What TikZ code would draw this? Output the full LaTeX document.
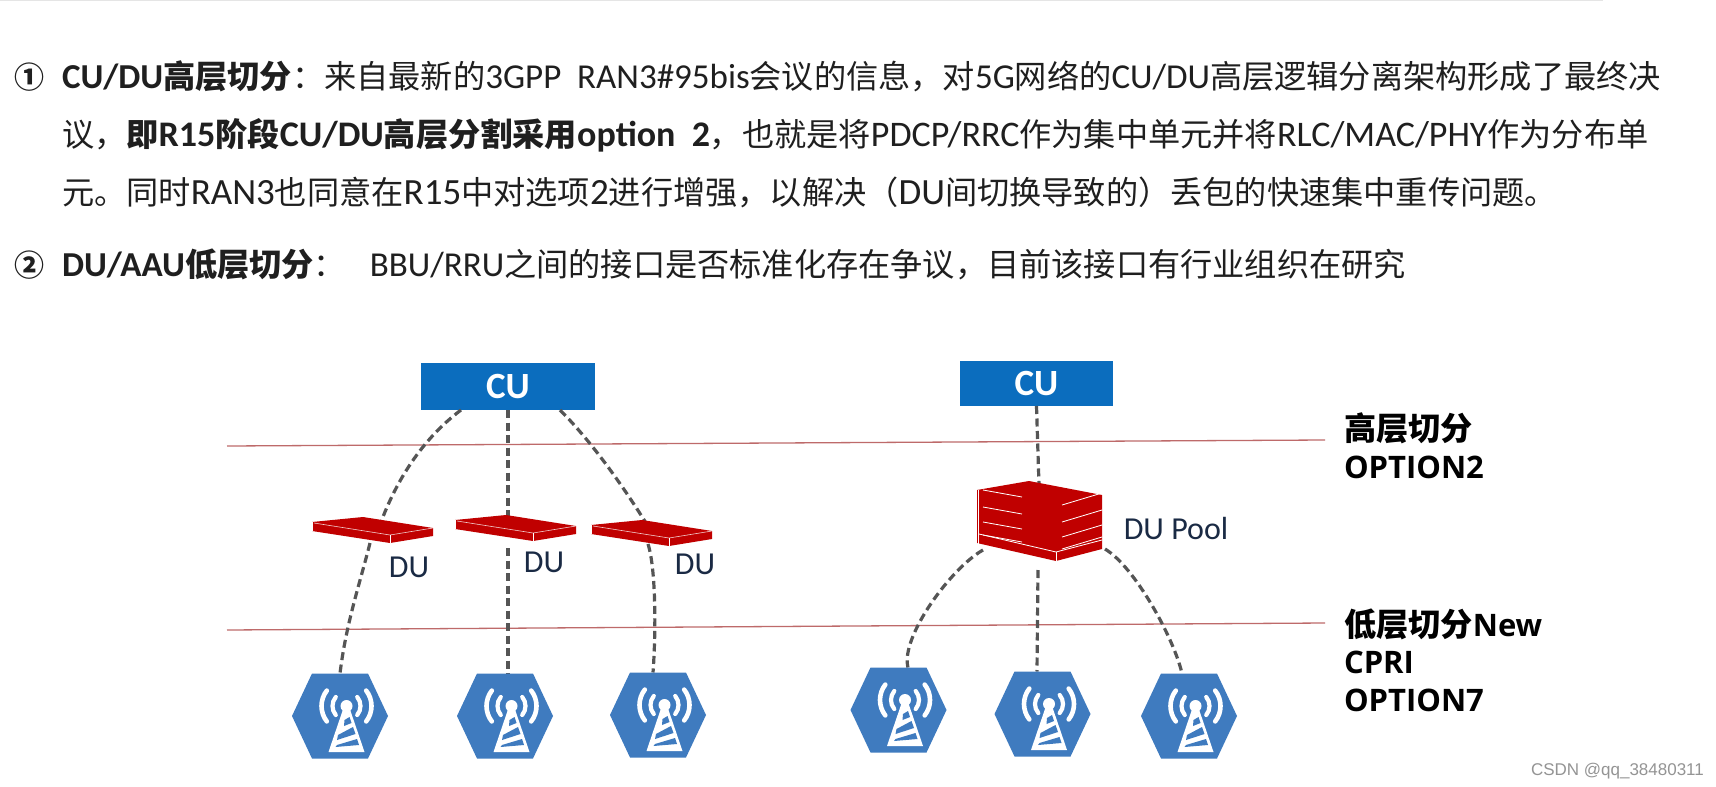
\documentclass[tikz,border=0pt]{standalone}
\usepackage{fontspec}
\setmainfont{Carlito}
\newfontfamily\cjf{Noto Sans CJK SC}
\newfontfamily\opf{Open Sans}
\newfontfamily\arf{Liberation Sans}
\newcommand\zh[1]{{\cjf\fontsize{32.2}{36}\selectfont #1}}
\newcommand\lat{\fontsize{35}{36}\selectfont}
\newcommand\latb{\fontsize{36}{36}\selectfont}
\newcommand\latc{\fontsize{37}{36}\selectfont}
\definecolor{cublue}{HTML}{0B6DBE}
\definecolor{durule}{HTML}{BE6A6A}
\definecolor{dured}{HTML}{C00000}
\definecolor{hexblue}{HTML}{3F7BBF}
\definecolor{dashgray}{HTML}{555555}
\definecolor{duink}{HTML}{1A2A44}
\tikzset{
  x=1pt,y=-1pt,
  every node/.style={inner sep=0pt,outer sep=0pt},
  para/.style={anchor=base west,text=black!88},
  cubox/.style={fill=cublue,text=white,font=\bfseries\fontsize{37}{38}\selectfont,minimum height=#1},
  link/.style={draw=dashgray,line width=3.2pt,dash pattern=on 8pt off 4.5pt},
  rule/.style={draw=durule,line width=1.3pt},
  dulabel/.style={text=duink,font=\fontsize{32}{34}\selectfont},
  sidelabel/.style={anchor=west,align=left,text=black,font=\opf\bfseries\fontsize{31}{37.6}\selectfont},
  anchorbox/.style={minimum width=#1,minimum height=20pt},
  hexbox/.style={minimum width=96pt,minimum height=85pt},
  plate/.pic={
    \fill[dured] (0,0)--(51,-5)--(121,6)--(121,14)--(78,21)--(0,9)--cycle;
    \draw[white,line width=.6pt,opacity=.8] (2,1)--(78,13)--(121,6);
    \draw[white,line width=.6pt] (78,13)--(78,21) (0,0)--(0,9);
  },
  tower/.pic={
    \fill[hexblue] (-48,0)--(-28,-42.5)--(28,-42.5)--(48,0)--(28,42.5)--(-28,42.5)--cycle;
    \fill[white] (6.5,-10) circle (6);
    \fill[white] (3.5,-8)--(9.5,-8)--(24.5,36)--(-11.5,36)--cycle;
    \fill[hexblue] (4.5,4)--(9.5,1)--(11.5,7)--(4,10)--cycle;
    \fill[hexblue] (-2,19)--(13,11)--(15.5,18)--(-3,24)--cycle;
    \fill[hexblue] (-3,29)--(17,23)--(19,29)--(-4.5,31)--cycle;
    \draw[white,line width=4.2pt,line cap=round] (6.5,-10) ++(140:14) arc (140:220:14);
    \draw[white,line width=4.2pt,line cap=round] (6.5,-10) ++(40:14) arc (40:-40:14);
    \draw[white,line width=4.6pt,line cap=round] (6.5,-10) ++(142:25) arc (142:218:25);
    \draw[white,line width=4.6pt,line cap=round] (6.5,-10) ++(38:25) arc (38:-38:25);
  },
}
\begin{document}
\begin{tikzpicture}
\useasboundingbox (0,0) rectangle (1716,787);
\fill[white] (0,0) rectangle (1716,787);
\draw[black!10,line width=1pt] (0,.5)--(1603,.5);

% paragraph
\node[para,font=\bfseries\cjf\fontsize{30}{36}\selectfont] (n1) at (14,88) {①};
\node[para,font=\bfseries\cjf\fontsize{30}{36}\selectfont] (n2) at (14,276) {②};
\node[para] (l1) at (62,88) {\lat\textbf{CU/DU\zh{高层切分}}\zh{：来自最新的}3GPP\ \ RAN3\#95bis\zh{会议的信息，对}5G\zh{网络的}CU/DU\zh{高层逻辑分离架构形成了最终决}};
\node[para] (l2) at (62,146) {\latb\zh{议，}\textbf{\zh{即}R15\zh{阶段}CU/DU\zh{高层分割采用}option\ \ 2}\zh{，也就是将}PDCP/RRC\zh{作为集中单元并将}RLC/MAC/PHY\zh{作为分布单}};
\node[para] (l3) at (62,204) {\latc\zh{元。同时}RAN3\zh{也同意在}R15\zh{中对选项}2\zh{进行增强，以解决（}DU\zh{间切换导致的）丢包的快速集中重传问题。}};
\node[para] (l4) at (62,276) {\lat\textbf{DU/AAU\zh{低层切分}}\zh{：}\ \ \ BBU/RRU\zh{之间的接口是否标准化存在争议，目前该接口有行业组织在研究}};

% rules
\node[sidelabel] (hi) at (1344,446) {\zh{\textbf{高层切分}}\\OPTION2};
\node[sidelabel] (lo) at (1344,660) {\zh{\textbf{低层切分}}New\\CPRI\\OPTION7};
\coordinate (r1a) at (227,446); \coordinate (r1b) at (1325,440);
\coordinate (r2a) at (227,630); \coordinate (r2b) at (1325,623);
\draw[rule] (r1a) -- (r1b);
\draw[rule] (r2a) -- (r2b);

% CU boxes and frames of the drawn devices
\node[minimum width=174pt,cubox=47pt] (cu1) at (508,386.5) {CU};
\node[minimum width=153pt,cubox=45pt] (cu2) at (1036.5,383.5) {CU};

\foreach \n/\x/\y in {ru1/340/716,ru2/505/716,ru3/658/715,ru4/898.5/710,ru5/1042.5/714,ru6/1189/716}
  \node[hexbox] (\n) at (\x,\y) {};

\node[anchorbox=121pt] (du1) at (373,532) {};
\node[anchorbox=121pt] (du2) at (516,530) {};
\node[anchorbox=121pt] (du3) at (651,533) {};
\node[minimum width=125pt,minimum height=80pt] (pool) at (1038,525) {};

% links
\draw[link] ([xshift=-47pt]cu1.south) .. controls +(-40,30) and +(15,-40) .. ([xshift=8pt]du1.north);
\draw[link] ([xshift=-3pt,yshift=-1pt]du1.south) .. controls +(-10,40) and +(6,-50) .. (ru1.north);
\draw[link] (cu1.south) -- ([xshift=-8pt]du2.north);
\draw[link] ([xshift=-8pt,yshift=-8pt]du2.south) -- ([xshift=3pt]ru2.north);
\draw[link] ([xshift=52pt]cu1.south) .. controls +(30,30) and +(-25,-40) .. ([xshift=-5pt]du3.north);
\draw[link] ([xshift=-3pt,yshift=-1pt]du3.south) .. controls +(8,25) and +(3,-40) .. ([xshift=-5pt]ru3.north);
\draw[link] (cu2.south) -- ([xshift=1pt]pool.north);
\draw[link] ([xshift=-55pt,yshift=15pt]pool.south) .. controls +(-32,18) and +(-8,-30) .. ([xshift=9.5pt]ru4.north);
\draw[link] ([yshift=-5pt]pool.south) -- ([xshift=-5.5pt]ru5.north);
\draw[link] ([xshift=67pt,yshift=16pt]pool.south) .. controls +(30,18) and +(-8,-35) .. ([xshift=-7pt]ru6.north);

% drawings
\foreach \n in {ru1,ru2,ru3,ru4,ru5,ru6} \pic at (\n) {tower};
\pic at (312,522) {plate};
\pic at (455,520) {plate};
\pic at (591,525) {plate};
\fill[dured] (977,490)--(1029,481)--(1102,495)--(1102,549)--(1056,561)--(977,543)--cycle;
\foreach \a/\b/\c in {490/496/493,507/513/510,522/528/525,535/540/537}{
  \draw[white,line width=.8pt] (983,\a)--(1022,\a+7);
  \draw[white,line width=.8pt] (1062,\b+9)--(1102,\c);
}
\draw[white,line width=.8pt] (979,534)--(1056,552)--(1102,540);
\draw[white,line width=1pt] (978,490)--(978,545) (1056,552)--(1056,561);

% labels
\node[dulabel] (t1) at (409,567) {DU};
\node[dulabel] (t2) at (544,562) {DU};
\node[dulabel] (t3) at (695,564) {DU};
\node[dulabel] (t4) at (1176,529) {DU Pool};
\node[anchor=base west,text=black!42,font=\arf\fontsize{17}{18}\selectfont] (mark) at (1531,775) {CSDN @qq\_38480311};
\end{tikzpicture}
\end{document}
